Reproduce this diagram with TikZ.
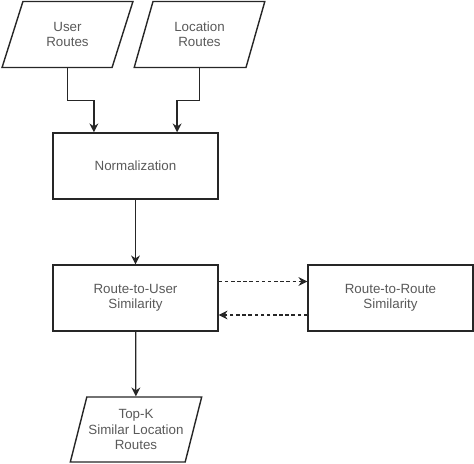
\documentclass[tikz,border=0pt]{standalone}
\usepackage{fontspec}
\setmainfont{Liberation Sans}
\usetikzlibrary{shapes.geometric,arrows.meta,calc}

\begin{document}
\begin{tikzpicture}[
  font=\fontsize{7.6}{8.6}\selectfont,
  every node/.style={text=black!65, align=center},
  procbox/.style={draw=black!85, line width=0.8pt, minimum width=3.3cm, minimum height=1.32cm},
  databox/.style={draw=black!85, line width=0.8pt, trapezium, trapezium left angle=69, trapezium right angle=111,
    trapezium stretches=true, minimum width=2.62cm, minimum height=1.32cm, inner sep=1pt},
  flow/.style={-{Stealth[length=5pt,width=5pt]}, line width=0.7pt, black!85},
  link/.style={flow, dash pattern=on 2pt off 1.5pt}
]
\useasboundingbox (0,0) rectangle (9.48,9.28);

\node[databox] (user) at (1.35,8.59) {User\\Routes};
\node[databox] (loc) at (3.99,8.59) {Location\\Routes};
\node[procbox] (norm) at (2.71,5.96) {Normalization};
\node[procbox] (rtu) at (2.71,3.32) {Route-to-User\\Similarity};
\node[procbox] (rtr) at (7.81,3.32) {Route-to-Route\\Similarity};
\node[databox, minimum width=2.64cm, minimum height=1.3cm] (topk) at (2.72,0.69) {Top-K\\Similar Location\\Routes};

\coordinate (n1) at ($(norm.north west)!0.25!(norm.north east)$);
\coordinate (n2) at ($(norm.north west)!0.75!(norm.north east)$);

\draw[flow] (user.south) -- ++(0,-0.64) -| (n1);
\draw[flow] (loc.south) -- ++(0,-0.64) -| (n2);
\draw[flow] (norm) -- (rtu);
\draw[link] ($(rtu.east)+(0,0.33)$) -- ($(rtr.west)+(0,0.33)$);
\draw[link] ($(rtr.west)+(0,-0.34)$) -- ($(rtu.east)+(0,-0.34)$);
\draw[flow] (rtu) -- (topk);

\end{tikzpicture}
\end{document}
